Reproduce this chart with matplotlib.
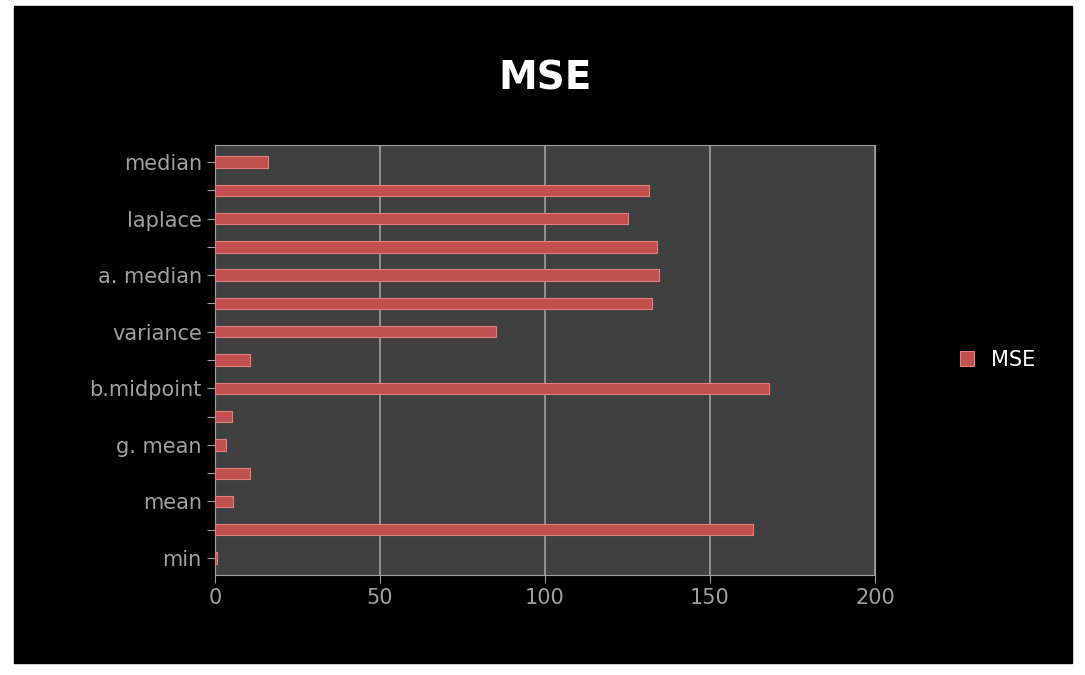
import matplotlib.pyplot as plt
from matplotlib.patches import Rectangle

# bars from bottom to top
labels = ['min', '', 'mean', '', 'g. mean', '', 'b.midpoint', '',
          'variance', '', 'a. median', '', 'laplace', '', 'median']
mse = [0.5, 163, 5.5, 10.7, 3.4, 5.2, 168, 10.7, 85, 132.5, 134.5, 134, 125, 131.5, 16]
xticks = [0, 50, 100, 150, 200]

fig = plt.figure(figsize=(10.85, 6.75), dpi=100)
fig.patch.set_facecolor('white')
fig.patches.append(Rectangle((14/1085, 12/675), 1058/1085, 657/675,
                             transform=fig.transFigure, color='black', zorder=-5))

ax = fig.add_axes([215/1085, 100/675, 660/1085, 430/675])
ax.set_facecolor('#404040')
ax.barh(range(len(mse)), mse, height=0.4, color='#c0504d', edgecolor='#e08080',
        linewidth=0.8, label='MSE', zorder=3)
ax.set_xlim(0, 200)
ax.set_ylim(-0.6, len(mse) - 0.4)
ax.set_xticks(xticks)
ax.set_xticklabels([str(v) for v in xticks], color='white', fontsize=15)
ax.set_yticks(range(len(mse)))
ax.set_yticklabels(labels, color='white', fontsize=15)
ax.grid(axis='x', color='#a0a0a0', linewidth=1.2, zorder=1)
ax.tick_params(colors='#a0a0a0', length=6)
for s in ax.spines.values():
    s.set_color('#a0a0a0')
ax.set_title('MSE', color='white', fontsize=28, fontweight='bold', pad=40)

leg = ax.legend(loc='center left', bbox_to_anchor=(1.1, 0.5), frameon=False,
                fontsize=15, handlelength=0.7, handleheight=0.7)
for t in leg.get_texts():
    t.set_color('white')

fig.savefig('out.png', dpi=100, facecolor=fig.get_facecolor())
